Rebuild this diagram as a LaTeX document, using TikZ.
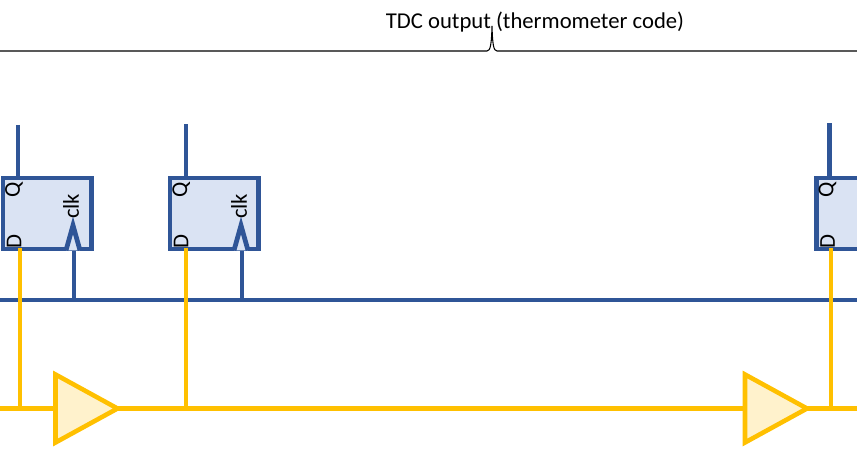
\documentclass[tikz,border=0pt]{standalone}
\usepackage{fontspec}
\setmainfont{Carlito}
\usetikzlibrary{positioning,shapes.geometric,calc}
\definecolor{ffblue}{HTML}{2F5597}
\definecolor{fffill}{HTML}{DAE3F3}
\definecolor{bufyellow}{HTML}{FFC000}
\definecolor{buffill}{HTML}{FFF2CC}
\tikzset{
  dff/.style={draw=ffblue, fill=fffill, line width=2.7pt, minimum width=1.77cm, minimum height=1.42cm, inner sep=0pt},
  buffer/.style={isosceles triangle, isosceles triangle apex angle=60, isosceles triangle stretches, draw=bufyellow, fill=buffill, line width=2.6pt, minimum width=1.36cm, minimum height=1.24cm, inner sep=0pt, outer sep=0pt, anchor=lower side},
  blueline/.style={draw=ffblue, line width=2.5pt},
  yellowline/.style={draw=bufyellow, line width=2.4pt},
  pinlabel/.style={rotate=90, inner sep=0pt}
}
\begin{document}
\begin{tikzpicture}[x=0.2mm, y=-0.2mm, font=\fontsize{12.9}{15}\selectfont]
    \useasboundingbox (0,0) rectangle (857,450);
    % bus ends and brace
    \coordinate (clkleft) at (0,299.7);
    \coordinate (clkright) at (857,299.7);
    \coordinate (sigleft) at (0,408.5);
    \coordinate (sigright) at (857,408.5);
    \coordinate (braceleft) at (0,51);
    \coordinate (braceright) at (857,51);
    \coordinate (bracetip) at (492,26);
    \node (title) at (535,22) {TDC output (thermometer code)};
    \draw[black, line width=0.6pt] (braceleft) -- (487,51) .. controls (490.5,51) and (491.5,44) .. (bracetip) .. controls (492.5,44) and (493.5,51) .. (497,51) -- (braceright);

    \draw[blueline] (clkleft) -- (clkright);
    \node[buffer] (buf1) at (55.5,408.5) {};
    \node[buffer] (buf2) at (745,408.5) {};
    \draw[yellowline] (sigleft) -- (buf1.lower side);
    \draw[yellowline] (buf1.apex) -- (buf2.lower side);
    \draw[yellowline] (buf2.apex) -- (sigright);

    % flip-flops: centre x / name / Q wire x / D wire x / top of Q wire
    \foreach \x/\name/\qx/\dx/\qy in {47.2/ffa/17.7/20.3/125,214.3/ffb/185.7/185.7/124.5,860.7/ffc/829.3/830.7/123.5}{
        \node[dff] (\name) at (\x,213.5) {};
        \coordinate (\name q) at (\qx,\qy);
        \coordinate (\name d) at (\dx,408.5);
        \draw[blueline] (\name q) -- (\name q |- \name.north);
        \draw[yellowline] (\name d) -- ($(\name d |- \name.south)+(0,-3)$);
        \node[pinlabel] (\name qlabel) at ($(\name.north west)+(13.5,14)$) {Q};
        \node[pinlabel] (\name dlabel) at ($(\name.south west)+(13.5,-10)$) {D};
    }
    % clock inputs, the last one lies off the page
    \foreach \name/\cx in {ffa/74,ffb/242}{
        \coordinate (\name c) at (\cx,299.7);
        \draw[blueline] (\name c) -- (\name c |- \name.south);
        \draw[ffblue, line width=2.7pt, fill=fffill, line join=miter] ($(\name c |- \name.south)+(-8,-1)$) -- ($(\name c |- \name.south)+(-1,-26)$) -- ($(\name c |- \name.south)+(6,-1)$);
        \node[pinlabel] (\name clabel) at ($(\name c |- \name.north)+(-3,30.7)$) {clk};
    }
\end{tikzpicture}
\end{document}
